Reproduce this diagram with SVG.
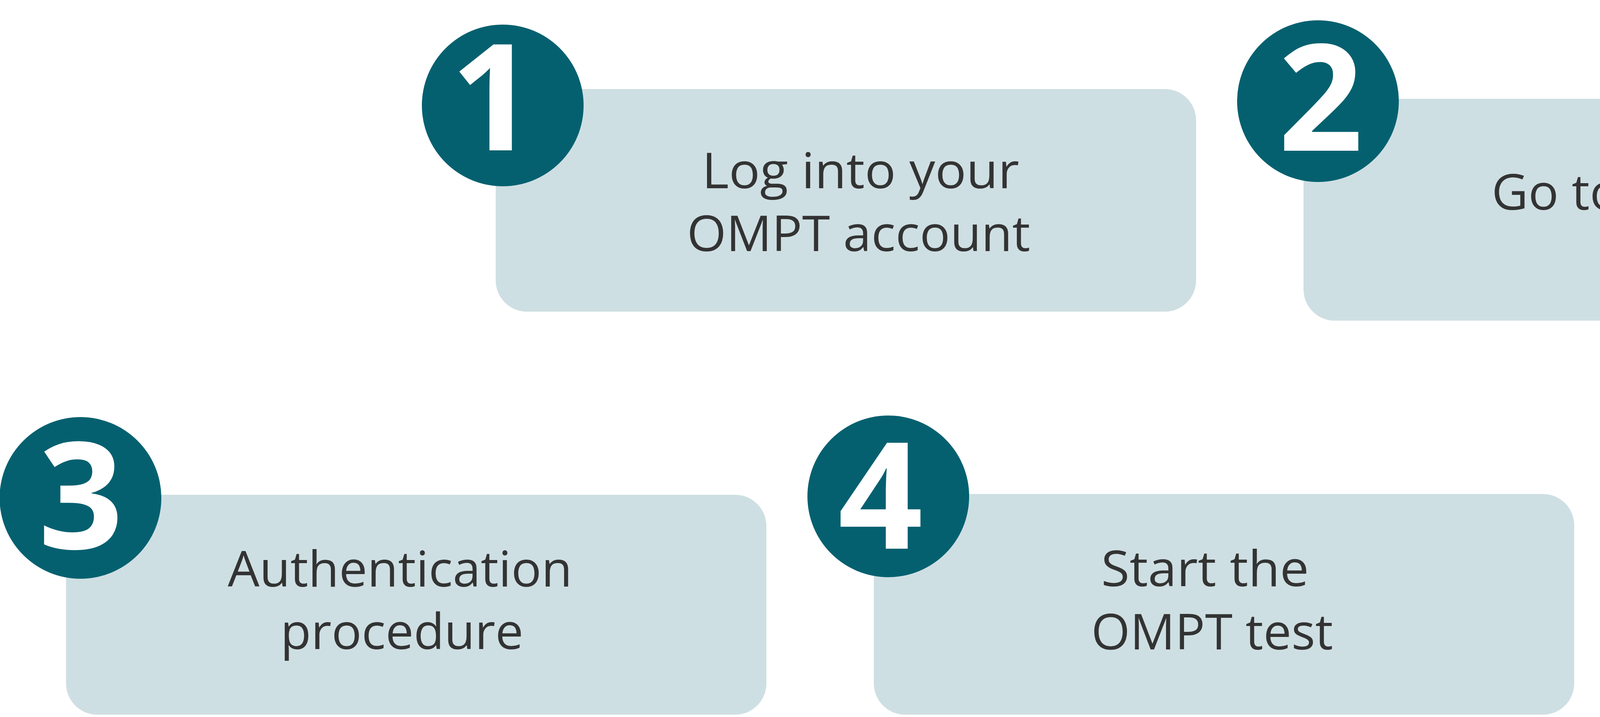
<svg xmlns="http://www.w3.org/2000/svg" width="6097" height="1836" viewBox="0 0 6097 1836">
  <style>
    .box { fill: #CEDFE3; }
    .badge { fill: #04606F; }
    .num { fill: #FFFFFF; font-family: "Open Sans", "Noto Sans", "DejaVu Sans", sans-serif; font-weight: 700; font-size: 380px; text-anchor: middle; }
    .lbl { fill: #333333; font-family: "Open Sans", "Noto Sans", "Liberation Sans", sans-serif; font-weight: 400; font-size: 126px; text-anchor: middle; }
  </style>
  <rect width="6097" height="1836" fill="#FFFFFF"/>
  <g id="connectors"></g>
  <g id="step1">
    <rect class="box" x="1269" y="228" width="1793" height="570" rx="80" ry="80"/>
    <circle class="badge" cx="1287" cy="270" r="207"/>
    <text class="num" x="1262" y="385">1</text>
    <text class="lbl" x="2203" y="482" textLength="812" lengthAdjust="spacingAndGlyphs">Log into your</text>
    <text class="lbl" x="2198" y="643" textLength="879" lengthAdjust="spacingAndGlyphs">OMPT account</text>
  </g>
  <g id="step2">
    <rect class="box" x="3337" y="253" width="1793" height="568" rx="80" ry="80"/>
    <circle class="badge" cx="3374" cy="259" r="207"/>
    <text class="num" x="3381" y="386">2</text>
    <text class="lbl" x="4270" y="537" textLength="903" lengthAdjust="spacingAndGlyphs">Go to ProctorU</text>
  </g>
  <g id="step3">
    <rect class="box" x="169" y="1267" width="1793" height="563" rx="80" ry="80"/>
    <circle class="badge" cx="206" cy="1275" r="207"/>
    <text class="num" x="207" y="1405">3</text>
    <text class="lbl" x="1024" y="1502" textLength="882" lengthAdjust="spacingAndGlyphs">Authentication</text>
    <text class="lbl" x="1029" y="1662" textLength="622" lengthAdjust="spacingAndGlyphs">procedure</text>
  </g>
  <g id="step4">
    <rect class="box" x="2237" y="1265" width="1793" height="565" rx="80" ry="80"/>
    <circle class="badge" cx="2274" cy="1271" r="207"/>
    <text class="num" x="2254" y="1405">4</text>
    <text class="lbl" x="3085" y="1501" textLength="532" lengthAdjust="spacingAndGlyphs">Start the</text>
    <text class="lbl" x="3103" y="1663" textLength="619" lengthAdjust="spacingAndGlyphs">OMPT test</text>
  </g>
  <g id="step5">
    <rect class="box" x="4304" y="1265" width="1792" height="565" rx="80" ry="80"/>
    <circle class="badge" cx="4342" cy="1271" r="207"/>
    <text class="num" x="4352" y="1401">5</text>
    <text class="lbl" x="5193" y="1506" textLength="655" lengthAdjust="spacingAndGlyphs">Submit the</text>
    <text class="lbl" x="5210" y="1666" textLength="625" lengthAdjust="spacingAndGlyphs">OMPT test</text>
  </g>
</svg>
